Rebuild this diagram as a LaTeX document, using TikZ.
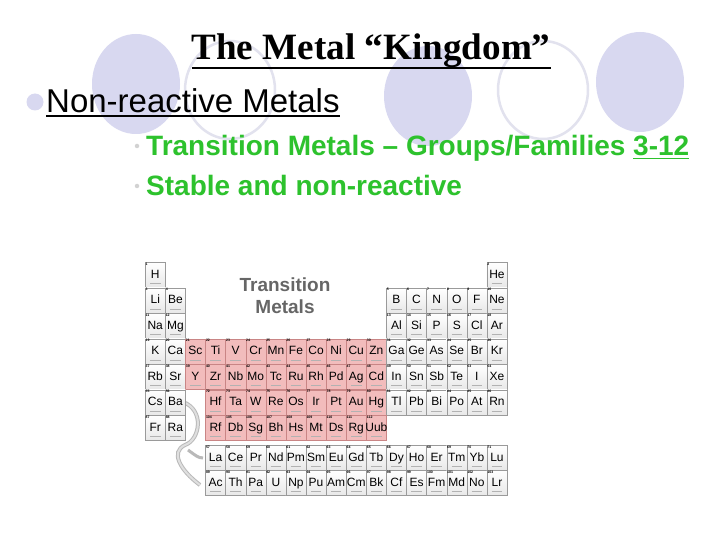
\documentclass[tikz,border=0pt]{standalone}
\usepackage{fontspec}
\usepackage{graphicx}
\setmainfont{Liberation Sans}
\newfontfamily\titlefont{Liberation Serif}
\definecolor{lav}{HTML}{D8D8F0}
\definecolor{ringc}{HTML}{E2E2EE}
\definecolor{grn}{HTML}{2DC22D}
\definecolor{pinkc}{HTML}{F2BCBC}
\definecolor{pinkd}{HTML}{C98585}
\definecolor{cellb}{HTML}{9A9A9A}
\tikzset{
  dot/.style={ellipse,fill=lav,draw=none,minimum width=88pt,minimum height=100pt,inner sep=0},
  ring/.style={ellipse,draw=ringc,line width=2.5pt,minimum width=90pt,minimum height=98pt,inner sep=0},
  normalcell/.style={top color=white,bottom color=gray!18,draw=cellb,line width=0.4pt},
  pinkcell/.style={fill=pinkc,draw=pinkd,line width=0.4pt},
  cellbox/.style={minimum width=20.1pt,minimum height=25pt,inner sep=0,anchor=north west},
  sym/.style={font=\fontsize{12}{12}\selectfont,inner sep=0,anchor=base},
  num/.style={font=\fontsize{3.5}{3.5}\selectfont\bfseries,inner sep=0.5pt,anchor=north west},
  sub/.style={font=\fontsize{28}{30}\selectfont\bfseries,text=grn,anchor=base west,inner sep=0},
  sbul/.style={circle,fill=gray!35,minimum size=4.5pt,inner sep=0},
}
\usetikzlibrary{shapes.geometric}
\newcommand\elrow[4]{%
  \foreach \s [count=\k from 0] in {#4}{%
    \pgfmathtruncatemacro\cc{#2+\k}%
    \pgfmathtruncatemacro\nn{#3+\k}%
    \def\sty{normalcell}%
    \ifnum#1>3 \ifnum#1<8 \ifnum\cc>2 \ifnum\cc<13 \def\sty{pinkcell}\fi\fi\fi\fi
    \pgfmathsetmacro\yy{#1<8 ? 262+(#1-1)*25.5 : 445+(#1-9)*25}%
    \node[cellbox,\sty] (e\nn) at ({145+(\cc-1)*20.1},\yy) {};
    \node[sym] (s\nn) at ([yshift=-3.5pt]e\nn.center) {\s};
    \node[num] (n\nn) at (e\nn.north west) {\nn};
    \draw[gray!60,line width=0.8pt] ([shift={(5,-4)}]e\nn.south west) -- ([shift={(-5,-4)}]e\nn.south east);
  }%
}
\begin{document}
\begin{tikzpicture}[x=1pt,y=-1pt]
\useasboundingbox (0,0) rectangle (720,540);
\fill[white] (0,0) rectangle (720,540);
\node[dot] (c1) at (136,84) {};
\node[ring] (c2) at (230,90) {};
\node[dot] (c3) at (428,96) {};
\node[ring] (c4) at (543,90) {};
\node[dot] (c5) at (640,82) {};
\node[inner sep=0,anchor=base] (title) at (371,60) {\resizebox{359pt}{!}{\titlefont\bfseries\fontsize{40}{40}\selectfont The Metal “Kingdom”}};
\draw[line width=2pt] (192,68) -- (551,68);
\node[circle,fill=lav,minimum size=17pt,inner sep=0] (b1) at (35,102) {};
\node[inner sep=0,anchor=base west] (t1) at (46,113) {\fontsize{33}{35}\selectfont Non-reactive Metals};
\draw[line width=1.5pt] (t1.base west)++(0,3) -- ([yshift=-3pt]t1.base east);
\node[sbul] (bb1) at (137,146) {};
\node[sub] (t2) at (146,156) {Transition Metals – Groups/Families \underline{3-12}};
\node[sbul] (bb2) at (137,186) {};
\node[sub] (t3) at (146,196) {Stable and non-reactive};
\draw[gray!55,line width=4pt] (183,402) .. controls (205,410) and (200,440) .. (185,445) .. controls (170,452) and (180,470) .. (200,485);
\draw[gray!25,line width=2pt] (183,402) .. controls (205,410) and (200,440) .. (185,445) .. controls (170,452) and (180,470) .. (200,485);
\draw[gray!55,line width=3pt] (188,450) .. controls (195,455) and (198,458) .. (203,458);
\elrow{1}{1}{1}{H}
\elrow{1}{18}{2}{He}
\elrow{2}{1}{3}{Li,Be}
\elrow{2}{13}{5}{B,C,N,O,F,Ne}
\elrow{3}{1}{11}{Na,Mg}
\elrow{3}{13}{13}{Al,Si,P,S,Cl,Ar}
\elrow{4}{1}{19}{K,Ca,Sc,Ti,V,Cr,Mn,Fe,Co,Ni,Cu,Zn,Ga,Ge,As,Se,Br,Kr}
\elrow{5}{1}{37}{Rb,Sr,Y,Zr,Nb,Mo,Tc,Ru,Rh,Pd,Ag,Cd,In,Sn,Sb,Te,I,Xe}
\elrow{6}{1}{55}{Cs,Ba}
\elrow{6}{4}{72}{Hf,Ta,W,Re,Os,Ir,Pt,Au,Hg,Tl,Pb,Bi,Po,At,Rn}
\elrow{7}{1}{87}{Fr,Ra}
\elrow{7}{4}{104}{Rf,Db,Sg,Bh,Hs,Mt,Ds,Rg,Uub}
\elrow{9}{4}{57}{La,Ce,Pr,Nd,Pm,Sm,Eu,Gd,Tb,Dy,Ho,Er,Tm,Yb,Lu}
\elrow{10}{4}{89}{Ac,Th,Pa,U,Np,Pu,Am,Cm,Bk,Cf,Es,Fm,Md,No,Lr}
\node[align=center,text=gray!80!black,font=\fontsize{19}{22}\selectfont\bfseries,inner sep=0] (lbl) at (285,296) {Transition\\Metals};
\end{tikzpicture}
\end{document}
